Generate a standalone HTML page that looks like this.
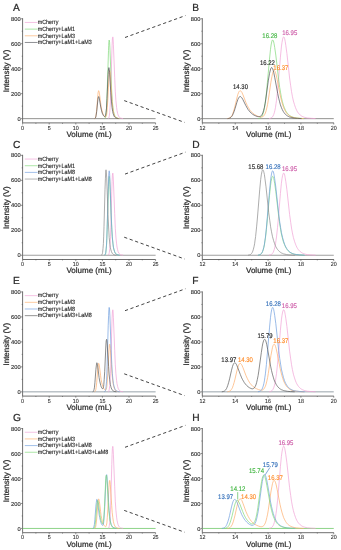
<!DOCTYPE html>
<html><head><meta charset="utf-8"><title>Size exclusion chromatography</title>
<style>
html,body{margin:0;padding:0;background:#fff;}
body{width:341px;height:550px;overflow:hidden;}
svg{display:block;text-rendering:geometricPrecision;filter:blur(0.3px);}
text{font-family:"Liberation Sans",Arial,sans-serif;fill:#2a2a2a;stroke:#2a2a2a;stroke-width:0.22px;}
.tk{font-size:5.35px;stroke-width:0.08px;}
.tky{font-size:5.75px;stroke-width:0.12px;}
.leg{font-size:5.4px;stroke-width:0.13px;}
.ttl{font-size:8.0px;}
.let{font-size:10.2px;}
.lab{font-size:6.0px;stroke-width:0.12px;}
</style></head>
<body>
<svg width="341" height="550" viewBox="0 0 341 550">
<rect width="341" height="550" fill="#fff"/>
<text x="13.1" y="11.2" class="let">A</text>
<text x="192.3" y="11.2" class="let">B</text>
<path d="M22.6,18.2 V122.9 H155.6" fill="none" stroke="#4a4a4a" stroke-width="0.8"/>
<path d="M21,118.65 h1.6" stroke="#4a4a4a" stroke-width="0.6"/>
<text x="20.65" y="120.71" class="tky" text-anchor="end">0</text>
<path d="M21.7,106.16 h0.9" stroke="#4a4a4a" stroke-width="0.6"/>
<path d="M21,93.67 h1.6" stroke="#4a4a4a" stroke-width="0.6"/>
<text x="20.65" y="95.73" class="tky" text-anchor="end">200</text>
<path d="M21.7,81.19 h0.9" stroke="#4a4a4a" stroke-width="0.6"/>
<path d="M21,68.7 h1.6" stroke="#4a4a4a" stroke-width="0.6"/>
<text x="20.65" y="70.76" class="tky" text-anchor="end">400</text>
<path d="M21.7,56.21 h0.9" stroke="#4a4a4a" stroke-width="0.6"/>
<path d="M21,43.72 h1.6" stroke="#4a4a4a" stroke-width="0.6"/>
<text x="20.65" y="45.78" class="tky" text-anchor="end">600</text>
<path d="M21.7,31.23 h0.9" stroke="#4a4a4a" stroke-width="0.6"/>
<path d="M21,18.75 h1.6" stroke="#4a4a4a" stroke-width="0.6"/>
<text x="20.65" y="20.8" class="tky" text-anchor="end">800</text>
<path d="M22.6,122.9 v1.6" stroke="#4a4a4a" stroke-width="0.6"/>
<text transform="translate(22.6,129.61) scale(1,1.1)" class="tk" text-anchor="middle">0</text>
<path d="M35.9,122.9 v0.9" stroke="#4a4a4a" stroke-width="0.6"/>
<path d="M49.2,122.9 v1.6" stroke="#4a4a4a" stroke-width="0.6"/>
<text transform="translate(49.2,129.61) scale(1,1.1)" class="tk" text-anchor="middle">5</text>
<path d="M62.5,122.9 v0.9" stroke="#4a4a4a" stroke-width="0.6"/>
<path d="M75.8,122.9 v1.6" stroke="#4a4a4a" stroke-width="0.6"/>
<text transform="translate(75.8,129.61) scale(1,1.1)" class="tk" text-anchor="middle">10</text>
<path d="M89.1,122.9 v0.9" stroke="#4a4a4a" stroke-width="0.6"/>
<path d="M102.4,122.9 v1.6" stroke="#4a4a4a" stroke-width="0.6"/>
<text transform="translate(102.4,129.61) scale(1,1.1)" class="tk" text-anchor="middle">15</text>
<path d="M115.7,122.9 v0.9" stroke="#4a4a4a" stroke-width="0.6"/>
<path d="M129,122.9 v1.6" stroke="#4a4a4a" stroke-width="0.6"/>
<text transform="translate(129,129.61) scale(1,1.1)" class="tk" text-anchor="middle">20</text>
<path d="M142.3,122.9 v0.9" stroke="#4a4a4a" stroke-width="0.6"/>
<path d="M155.6,122.9 v1.6" stroke="#4a4a4a" stroke-width="0.6"/>
<text transform="translate(155.6,129.61) scale(1,1.1)" class="tk" text-anchor="middle">25</text>
<text x="89.1" y="136.76" class="ttl" text-anchor="middle">Volume (mL)</text>
<text transform="translate(9.2,71) rotate(-90)" class="ttl" text-anchor="middle">Intensity (V)</text>
<path d="M202.3,18.2 V122.9 H333.9" fill="none" stroke="#4a4a4a" stroke-width="0.8"/>
<path d="M200.7,118.65 h1.6" stroke="#4a4a4a" stroke-width="0.6"/>
<text x="200.35" y="120.71" class="tky" text-anchor="end">0</text>
<path d="M201.4,106.16 h0.9" stroke="#4a4a4a" stroke-width="0.6"/>
<path d="M200.7,93.67 h1.6" stroke="#4a4a4a" stroke-width="0.6"/>
<text x="200.35" y="95.73" class="tky" text-anchor="end">200</text>
<path d="M201.4,81.19 h0.9" stroke="#4a4a4a" stroke-width="0.6"/>
<path d="M200.7,68.7 h1.6" stroke="#4a4a4a" stroke-width="0.6"/>
<text x="200.35" y="70.76" class="tky" text-anchor="end">400</text>
<path d="M201.4,56.21 h0.9" stroke="#4a4a4a" stroke-width="0.6"/>
<path d="M200.7,43.72 h1.6" stroke="#4a4a4a" stroke-width="0.6"/>
<text x="200.35" y="45.78" class="tky" text-anchor="end">600</text>
<path d="M201.4,31.23 h0.9" stroke="#4a4a4a" stroke-width="0.6"/>
<path d="M200.7,18.75 h1.6" stroke="#4a4a4a" stroke-width="0.6"/>
<text x="200.35" y="20.8" class="tky" text-anchor="end">800</text>
<path d="M202.4,122.9 v1.6" stroke="#4a4a4a" stroke-width="0.6"/>
<text transform="translate(202.4,129.61) scale(1,1.1)" class="tk" text-anchor="middle">12</text>
<path d="M218.82,122.9 v0.9" stroke="#4a4a4a" stroke-width="0.6"/>
<path d="M235.24,122.9 v1.6" stroke="#4a4a4a" stroke-width="0.6"/>
<text transform="translate(235.24,129.61) scale(1,1.1)" class="tk" text-anchor="middle">14</text>
<path d="M251.66,122.9 v0.9" stroke="#4a4a4a" stroke-width="0.6"/>
<path d="M268.08,122.9 v1.6" stroke="#4a4a4a" stroke-width="0.6"/>
<text transform="translate(268.08,129.61) scale(1,1.1)" class="tk" text-anchor="middle">16</text>
<path d="M284.5,122.9 v0.9" stroke="#4a4a4a" stroke-width="0.6"/>
<path d="M300.92,122.9 v1.6" stroke="#4a4a4a" stroke-width="0.6"/>
<text transform="translate(300.92,129.61) scale(1,1.1)" class="tk" text-anchor="middle">18</text>
<path d="M317.34,122.9 v0.9" stroke="#4a4a4a" stroke-width="0.6"/>
<path d="M333.76,122.9 v1.6" stroke="#4a4a4a" stroke-width="0.6"/>
<text transform="translate(333.76,129.61) scale(1,1.1)" class="tk" text-anchor="middle">20</text>
<text x="268.7" y="136.76" class="ttl" text-anchor="middle">Volume (mL)</text>
<text transform="translate(188.7,71) rotate(-90)" class="ttl" text-anchor="middle">Intensity (V)</text>
<path d="M22.6,118.65 H155.6" stroke="#80807c" stroke-width="0.85"/>
<path d="M108.0,118.6L108.5,118.3L108.8,117.9L109.1,116.9L109.3,115.9L109.8,112.1L110.1,107.3L110.5,100.2L110.8,90.7L111.8,55.0L112.1,45.2L112.4,38.9L112.6,37.7L112.7,37.1L112.8,36.9L112.9,37.1L113.1,39.0L113.4,44.8L114.7,77.2L115.3,91.8L115.9,100.5L116.6,107.4L117.0,110.5L117.6,113.2L118.1,115.0L118.8,116.4L119.1,116.9L119.5,117.4L120.0,117.7L120.4,118.0L121.5,118.3L123.1,118.6" fill="none" stroke="#f0a2d6" stroke-width="0.7"/>
<path d="M104.5,118.6L104.9,118.3L105.2,117.9L105.6,116.9L105.8,115.9L106.2,112.2L106.6,107.4L106.9,100.5L107.2,91.3L108.5,50.5L108.7,45.3L108.9,41.8L109.0,40.7L109.1,40.1L109.2,40.0L109.3,40.3L109.6,42.3L109.9,47.9L111.1,79.1L111.8,93.1L112.3,101.3L113.0,107.9L113.4,110.8L114.0,113.4L114.6,115.2L115.2,116.5L115.6,116.9L116.0,117.4L116.9,118.0L118.0,118.4L119.5,118.6" fill="none" stroke="#80d978" stroke-width="0.7"/>
<path d="M94.5,118.6L94.8,118.4L95.0,118.3L95.3,118.0L95.5,117.5L95.8,116.5L96.1,114.7L96.7,109.7L97.9,94.5L98.1,92.6L98.4,91.4L98.5,91.0L98.6,90.7L98.7,90.7L98.8,90.8L99.0,91.4L99.4,93.2L100.6,102.8L101.1,106.5L101.7,109.4L102.4,112.0L102.9,113.6L103.5,114.8L104.0,115.7L104.7,116.5L105.2,116.9L105.5,117.0L105.7,116.9L106.0,116.6L106.3,115.8L106.7,114.2L106.9,112.5L107.3,107.5L107.8,100.1L108.9,77.4L109.3,71.8L109.5,71.1L109.6,70.7L109.7,70.5L109.8,70.6L110.0,71.7L110.3,74.9L111.7,95.6L112.2,102.6L112.8,107.8L113.4,111.9L113.9,113.8L114.3,115.1L114.9,116.3L115.4,117.1L116.1,117.7L117.0,118.1L118.0,118.4L119.3,118.6" fill="none" stroke="#fdae6c" stroke-width="0.7"/>
<path d="M94.6,118.6L94.9,118.4L95.1,118.2L95.5,117.8L95.8,116.9L96.1,115.5L96.7,111.6L97.9,99.6L98.1,98.1L98.4,97.1L98.5,96.8L98.6,96.6L98.7,96.5L98.9,96.8L99.2,98.0L100.9,107.9L101.6,110.9L102.2,113.1L102.7,114.2L103.2,115.2L103.8,116.0L104.4,116.6L104.7,116.7L105.0,116.6L105.4,116.1L105.6,115.4L106.0,112.9L106.5,108.1L107.0,98.5L108.1,74.5L108.3,71.2L108.6,68.8L108.7,68.1L108.8,67.7L108.9,67.6L109.0,67.8L109.2,69.0L109.6,72.6L110.8,92.8L111.5,101.9L112.0,107.3L112.7,111.6L113.1,113.5L113.6,114.9L114.1,116.2L114.7,117.0L115.3,117.6L116.2,118.1L117.2,118.4L118.7,118.6" fill="none" stroke="#505258" stroke-width="0.7"/>
<path d="M202.4,118.65 H333.76" stroke="#80807c" stroke-width="0.85"/>
<path d="M269.0,118.6L270.3,118.3L271.4,117.9L271.8,117.6L272.2,117.1L273.0,116.1L273.7,114.5L274.3,112.8L274.9,110.4L275.5,107.4L276.0,103.7L276.5,100.4L277.5,91.1L278.4,81.5L280.4,57.2L281.4,46.9L282.0,42.4L282.6,39.2L283.1,37.6L283.3,37.1L283.6,36.9L283.8,36.9L284.1,37.2L284.4,37.8L284.7,38.8L285.2,41.5L285.8,45.3L286.9,53.4L289.6,78.0L290.7,85.8L291.5,91.5L292.4,96.4L293.4,101.0L294.5,104.7L295.5,107.7L296.1,109.1L296.8,110.6L297.5,111.9L298.4,113.1L299.3,114.1L300.2,115.0L301.2,115.8L302.2,116.4L303.4,116.9L304.5,117.3L305.9,117.7L307.3,118.0L310.8,118.3L315.6,118.6" fill="none" stroke="#f0a2d6" stroke-width="0.7"/>
<path d="M258.1,118.6L259.2,118.4L260.3,118.0L261.1,117.3L261.9,116.4L262.6,114.9L263.2,113.3L263.8,111.2L264.4,108.4L264.9,105.0L265.4,101.9L266.4,93.2L267.4,82.5L269.5,59.1L270.5,49.3L271.1,45.0L271.7,42.0L272.0,41.0L272.2,40.3L272.4,40.1L272.7,40.0L272.8,40.0L273.1,40.4L273.4,41.0L273.7,42.0L274.1,43.9L274.7,47.4L275.8,55.1L278.7,79.9L279.7,87.4L280.6,92.8L281.4,97.4L282.3,101.3L283.3,105.0L284.4,107.9L285.0,109.2L285.7,110.7L286.4,112.0L287.3,113.2L288.2,114.2L289.0,115.0L289.9,115.7L290.9,116.3L292.1,116.9L293.3,117.3L294.6,117.7L296.1,118.0L299.6,118.3L304.4,118.6" fill="none" stroke="#80d978" stroke-width="0.7"/>
<path d="M227.4,118.6L228.3,118.4L229.0,118.2L229.7,117.9L230.3,117.5L230.9,117.0L231.3,116.4L231.9,115.5L232.4,114.7L233.2,112.4L234.1,109.5L235.0,106.1L236.9,98.0L237.9,94.3L238.5,92.7L239.1,91.5L239.5,91.0L239.8,90.8L240.1,90.7L240.5,90.8L241.0,91.1L241.4,91.6L241.9,92.4L243.0,94.9L245.9,102.5L247.4,105.8L248.3,107.4L249.3,109.1L250.3,110.6L251.5,111.9L253.1,113.5L254.7,114.6L256.6,115.7L258.7,116.5L260.4,116.9L261.1,117.0L261.7,116.9L262.3,116.8L262.9,116.6L263.3,116.3L263.8,115.9L264.2,115.3L264.6,114.6L265.4,113.0L266.1,110.8L266.8,108.0L267.6,104.4L268.3,100.1L270.9,82.2L272.0,76.2L272.5,73.6L273.1,71.8L273.6,70.9L273.9,70.6L274.1,70.5L274.3,70.5L274.6,70.8L274.9,71.1L275.2,71.7L275.6,72.9L276.2,75.0L277.2,79.7L280.1,94.9L281.0,98.8L281.9,102.3L282.8,105.2L283.6,107.6L284.7,109.9L285.7,111.8L286.3,112.7L287.0,113.6L287.7,114.4L288.5,115.1L289.2,115.6L290.1,116.2L290.9,116.6L292.0,117.1L294.2,117.7L296.6,118.1L299.7,118.4L303.8,118.6" fill="none" stroke="#fdae6c" stroke-width="0.7"/>
<path d="M227.5,118.6L228.4,118.5L229.1,118.3L229.7,118.1L230.3,117.8L230.9,117.3L231.3,116.9L231.9,116.2L232.4,115.5L233.2,113.7L234.1,111.5L235.0,108.7L236.9,102.3L237.9,99.4L238.5,98.1L239.1,97.2L239.5,96.8L239.8,96.6L240.1,96.5L240.5,96.6L241.0,96.9L241.4,97.3L241.9,97.9L242.9,99.6L245.7,105.3L247.3,108.2L248.1,109.6L249.2,110.9L250.2,112.1L251.2,113.1L252.7,114.3L254.1,115.2L255.7,115.9L257.3,116.5L258.7,116.7L259.7,116.6L260.6,116.2L261.3,115.6L261.7,115.0L262.2,114.3L262.9,112.7L263.6,110.4L264.4,107.3L265.1,103.6L265.8,99.1L268.4,80.1L269.5,73.7L270.1,71.0L270.6,69.0L271.1,68.1L271.4,67.7L271.7,67.6L272.0,67.7L272.1,67.8L272.4,68.2L272.7,68.9L273.1,70.1L273.7,72.3L274.7,77.2L277.7,93.4L278.7,98.2L279.6,101.8L280.4,104.8L281.3,107.3L282.2,109.4L283.2,111.3L283.8,112.3L284.5,113.3L285.2,114.1L286.0,114.8L286.7,115.4L287.6,116.0L288.5,116.5L289.5,117.0L290.5,117.3L291.7,117.6L294.2,118.1L297.4,118.4L301.6,118.6" fill="none" stroke="#505258" stroke-width="0.7"/>
<path d="M24.8,22.45 H37.6" stroke="#f0a2d6" stroke-width="0.65"/>
<text transform="translate(37.7,24.27) scale(1,1.12)" class="leg">mCherry</text>
<path d="M24.8,29.12 H37.6" stroke="#80d978" stroke-width="0.65"/>
<text transform="translate(37.7,30.94) scale(1,1.12)" class="leg">mCherry+LaM1</text>
<path d="M24.8,35.79 H37.6" stroke="#fdae6c" stroke-width="0.65"/>
<text transform="translate(37.7,37.61) scale(1,1.12)" class="leg">mCherry+LaM3</text>
<path d="M24.8,42.46 H37.6" stroke="#505258" stroke-width="0.65"/>
<text transform="translate(37.7,44.28) scale(1,1.12)" class="leg">mCherry+LaM1+LaM3</text>
<text transform="translate(289.7,35.16) scale(1,1.12)" class="lab" text-anchor="middle" style="fill:#cc58a6;stroke:#cc58a6">16.95</text>
<text transform="translate(269.8,38.46) scale(1,1.12)" class="lab" text-anchor="middle" style="fill:#3cb43c;stroke:#3cb43c">16.28</text>
<text transform="translate(267.4,65.36) scale(1,1.12)" class="lab" text-anchor="middle" style="fill:#1e1e1e;stroke:#1e1e1e">16.22</text>
<text transform="translate(280.8,70.06) scale(1,1.12)" class="lab" text-anchor="middle" style="fill:#ff8a26;stroke:#ff8a26">16.37</text>
<text transform="translate(240.5,88.76) scale(1,1.12)" class="lab" text-anchor="middle" style="fill:#1e1e1e;stroke:#1e1e1e">14.30</text>
<path d="M125,37.5 L185.4,15.6 M124.2,100.6 L184.6,122.4" stroke="#3a3a3a" stroke-width="0.95" stroke-dasharray="3.2,2.6" fill="none"/>
<text x="13.1" y="147.8" class="let">C</text>
<text x="192.3" y="147.8" class="let">D</text>
<path d="M22.6,154.8 V259.5 H155.6" fill="none" stroke="#4a4a4a" stroke-width="0.8"/>
<path d="M21,255.25 h1.6" stroke="#4a4a4a" stroke-width="0.6"/>
<text x="20.65" y="257.31" class="tky" text-anchor="end">0</text>
<path d="M21.7,242.76 h0.9" stroke="#4a4a4a" stroke-width="0.6"/>
<path d="M21,230.27 h1.6" stroke="#4a4a4a" stroke-width="0.6"/>
<text x="20.65" y="232.33" class="tky" text-anchor="end">200</text>
<path d="M21.7,217.79 h0.9" stroke="#4a4a4a" stroke-width="0.6"/>
<path d="M21,205.3 h1.6" stroke="#4a4a4a" stroke-width="0.6"/>
<text x="20.65" y="207.36" class="tky" text-anchor="end">400</text>
<path d="M21.7,192.81 h0.9" stroke="#4a4a4a" stroke-width="0.6"/>
<path d="M21,180.32 h1.6" stroke="#4a4a4a" stroke-width="0.6"/>
<text x="20.65" y="182.38" class="tky" text-anchor="end">600</text>
<path d="M21.7,167.83 h0.9" stroke="#4a4a4a" stroke-width="0.6"/>
<path d="M21,155.35 h1.6" stroke="#4a4a4a" stroke-width="0.6"/>
<text x="20.65" y="157.4" class="tky" text-anchor="end">800</text>
<path d="M22.6,259.5 v1.6" stroke="#4a4a4a" stroke-width="0.6"/>
<text transform="translate(22.6,266.21) scale(1,1.1)" class="tk" text-anchor="middle">0</text>
<path d="M35.9,259.5 v0.9" stroke="#4a4a4a" stroke-width="0.6"/>
<path d="M49.2,259.5 v1.6" stroke="#4a4a4a" stroke-width="0.6"/>
<text transform="translate(49.2,266.21) scale(1,1.1)" class="tk" text-anchor="middle">5</text>
<path d="M62.5,259.5 v0.9" stroke="#4a4a4a" stroke-width="0.6"/>
<path d="M75.8,259.5 v1.6" stroke="#4a4a4a" stroke-width="0.6"/>
<text transform="translate(75.8,266.21) scale(1,1.1)" class="tk" text-anchor="middle">10</text>
<path d="M89.1,259.5 v0.9" stroke="#4a4a4a" stroke-width="0.6"/>
<path d="M102.4,259.5 v1.6" stroke="#4a4a4a" stroke-width="0.6"/>
<text transform="translate(102.4,266.21) scale(1,1.1)" class="tk" text-anchor="middle">15</text>
<path d="M115.7,259.5 v0.9" stroke="#4a4a4a" stroke-width="0.6"/>
<path d="M129,259.5 v1.6" stroke="#4a4a4a" stroke-width="0.6"/>
<text transform="translate(129,266.21) scale(1,1.1)" class="tk" text-anchor="middle">20</text>
<path d="M142.3,259.5 v0.9" stroke="#4a4a4a" stroke-width="0.6"/>
<path d="M155.6,259.5 v1.6" stroke="#4a4a4a" stroke-width="0.6"/>
<text transform="translate(155.6,266.21) scale(1,1.1)" class="tk" text-anchor="middle">25</text>
<text x="89.1" y="273.36" class="ttl" text-anchor="middle">Volume (mL)</text>
<text transform="translate(9.2,207.6) rotate(-90)" class="ttl" text-anchor="middle">Intensity (V)</text>
<path d="M202.3,154.8 V259.5 H333.9" fill="none" stroke="#4a4a4a" stroke-width="0.8"/>
<path d="M200.7,255.25 h1.6" stroke="#4a4a4a" stroke-width="0.6"/>
<text x="200.35" y="257.31" class="tky" text-anchor="end">0</text>
<path d="M201.4,242.76 h0.9" stroke="#4a4a4a" stroke-width="0.6"/>
<path d="M200.7,230.27 h1.6" stroke="#4a4a4a" stroke-width="0.6"/>
<text x="200.35" y="232.33" class="tky" text-anchor="end">200</text>
<path d="M201.4,217.79 h0.9" stroke="#4a4a4a" stroke-width="0.6"/>
<path d="M200.7,205.3 h1.6" stroke="#4a4a4a" stroke-width="0.6"/>
<text x="200.35" y="207.36" class="tky" text-anchor="end">400</text>
<path d="M201.4,192.81 h0.9" stroke="#4a4a4a" stroke-width="0.6"/>
<path d="M200.7,180.32 h1.6" stroke="#4a4a4a" stroke-width="0.6"/>
<text x="200.35" y="182.38" class="tky" text-anchor="end">600</text>
<path d="M201.4,167.83 h0.9" stroke="#4a4a4a" stroke-width="0.6"/>
<path d="M200.7,155.35 h1.6" stroke="#4a4a4a" stroke-width="0.6"/>
<text x="200.35" y="157.4" class="tky" text-anchor="end">800</text>
<path d="M202.4,259.5 v1.6" stroke="#4a4a4a" stroke-width="0.6"/>
<text transform="translate(202.4,266.21) scale(1,1.1)" class="tk" text-anchor="middle">12</text>
<path d="M218.82,259.5 v0.9" stroke="#4a4a4a" stroke-width="0.6"/>
<path d="M235.24,259.5 v1.6" stroke="#4a4a4a" stroke-width="0.6"/>
<text transform="translate(235.24,266.21) scale(1,1.1)" class="tk" text-anchor="middle">14</text>
<path d="M251.66,259.5 v0.9" stroke="#4a4a4a" stroke-width="0.6"/>
<path d="M268.08,259.5 v1.6" stroke="#4a4a4a" stroke-width="0.6"/>
<text transform="translate(268.08,266.21) scale(1,1.1)" class="tk" text-anchor="middle">16</text>
<path d="M284.5,259.5 v0.9" stroke="#4a4a4a" stroke-width="0.6"/>
<path d="M300.92,259.5 v1.6" stroke="#4a4a4a" stroke-width="0.6"/>
<text transform="translate(300.92,266.21) scale(1,1.1)" class="tk" text-anchor="middle">18</text>
<path d="M317.34,259.5 v0.9" stroke="#4a4a4a" stroke-width="0.6"/>
<path d="M333.76,259.5 v1.6" stroke="#4a4a4a" stroke-width="0.6"/>
<text transform="translate(333.76,266.21) scale(1,1.1)" class="tk" text-anchor="middle">20</text>
<text x="268.7" y="273.36" class="ttl" text-anchor="middle">Volume (mL)</text>
<text transform="translate(188.7,207.6) rotate(-90)" class="ttl" text-anchor="middle">Intensity (V)</text>
<path d="M22.6,255.25 H155.6" stroke="#8e8e8e" stroke-width="0.85"/>
<path d="M108.0,255.2L108.5,254.9L108.8,254.5L109.1,253.5L109.3,252.5L109.8,248.7L110.1,243.8L110.5,236.7L110.8,227.2L111.8,191.3L112.1,181.5L112.4,175.1L112.6,174.0L112.7,173.3L112.8,173.1L112.9,173.4L113.1,175.3L113.4,181.0L114.7,213.6L115.3,228.3L115.9,237.0L116.6,243.9L117.0,247.0L117.6,249.7L118.1,251.6L118.8,253.0L119.1,253.5L119.5,253.9L120.0,254.3L120.4,254.6L121.5,254.9L123.2,255.2" fill="none" stroke="#f0a2d6" stroke-width="0.7"/>
<path d="M104.5,255.2L104.9,254.9L105.2,254.5L105.6,253.5L105.8,252.5L106.2,248.8L106.6,244.0L106.9,237.1L107.2,227.8L108.5,186.8L108.7,181.6L108.9,178.1L109.0,177.1L109.1,176.5L109.2,176.3L109.3,176.7L109.6,178.6L109.9,184.3L111.1,215.6L111.8,229.6L112.3,237.9L113.0,244.5L113.4,247.4L114.0,250.0L114.6,251.7L115.2,253.1L115.6,253.5L116.0,254.0L116.9,254.6L118.0,255.0L119.5,255.2" fill="none" stroke="#80d978" stroke-width="0.7"/>
<path d="M104.4,255.2L104.8,255.0L105.1,254.6L105.5,253.8L105.7,252.9L106.1,249.6L106.5,245.2L106.8,238.5L107.1,229.5L108.2,189.1L108.6,179.1L108.9,172.8L109.0,171.6L109.1,171.0L109.2,170.8L109.3,171.2L109.6,173.3L109.9,179.3L111.1,212.8L111.8,227.8L112.3,236.7L113.0,243.7L113.4,246.9L114.0,249.6L114.6,251.5L115.2,252.9L115.6,253.4L116.0,253.9L116.4,254.3L116.9,254.6L118.0,254.9L119.7,255.2" fill="none" stroke="#6f9ede" stroke-width="0.7"/>
<path d="M101.2,255.2L101.7,254.9L102.0,254.5L102.4,253.5L102.6,252.4L103.0,248.6L103.4,243.5L103.7,236.2L104.0,226.4L105.0,189.2L105.4,178.8L105.7,172.1L105.8,170.8L105.9,170.1L106.0,169.8L106.1,170.1L106.3,172.0L106.7,177.9L108.0,214.6L108.6,227.0L109.2,237.6L109.9,244.3L110.3,247.3L110.9,249.9L111.5,251.7L112.1,253.0L112.4,253.5L112.9,254.0L113.8,254.6L114.9,255.0L116.4,255.2" fill="none" stroke="#8a8a8a" stroke-width="0.7"/>
<path d="M202.4,255.25 H333.76" stroke="#8e8e8e" stroke-width="0.85"/>
<path d="M269.0,255.2L270.3,254.9L271.4,254.5L271.8,254.2L272.2,253.7L273.0,252.7L273.7,251.1L274.3,249.3L274.9,247.0L275.5,244.0L276.0,240.3L276.5,237.0L277.5,227.6L278.4,217.9L280.4,193.5L281.4,183.2L282.0,178.7L282.6,175.4L283.1,173.9L283.3,173.3L283.6,173.1L283.8,173.1L284.1,173.4L284.4,174.1L284.7,175.0L285.2,177.8L285.8,181.5L286.9,189.7L289.6,214.5L290.7,222.3L291.5,228.0L292.4,232.9L293.4,237.5L294.5,241.3L295.5,244.2L296.1,245.7L296.8,247.2L297.5,248.4L298.4,249.7L299.3,250.7L300.2,251.6L301.2,252.4L302.2,253.0L303.4,253.5L304.5,253.9L305.9,254.3L307.3,254.6L310.8,254.9L315.6,255.2" fill="none" stroke="#f0a2d6" stroke-width="0.7"/>
<path d="M258.1,255.2L259.2,255.0L260.3,254.6L261.1,253.9L261.9,253.0L262.6,251.5L263.2,249.9L263.8,247.7L264.4,245.0L264.9,241.5L265.4,238.5L266.4,229.7L267.4,218.9L269.5,195.5L270.5,185.7L271.1,181.4L271.7,178.4L272.0,177.4L272.2,176.7L272.4,176.5L272.7,176.3L272.8,176.4L273.1,176.7L273.4,177.4L273.7,178.3L274.1,180.3L274.7,183.7L275.8,191.5L278.7,216.4L279.7,223.9L280.6,229.3L281.4,234.0L282.3,237.8L283.3,241.5L284.4,244.4L285.0,245.8L285.7,247.3L286.4,248.5L287.3,249.8L288.2,250.8L289.0,251.6L289.9,252.3L290.9,252.9L292.1,253.5L293.3,253.9L294.6,254.3L296.1,254.5L299.6,254.9L304.4,255.2" fill="none" stroke="#80d978" stroke-width="0.7"/>
<path d="M257.9,255.2L259.2,254.9L260.3,254.5L260.7,254.2L261.1,253.8L261.9,252.8L262.6,251.3L263.2,249.5L263.8,247.2L264.4,244.3L264.9,240.6L265.4,237.3L266.4,227.9L267.4,216.4L269.5,191.3L270.5,180.8L271.1,176.3L271.7,173.0L272.0,171.9L272.2,171.2L272.4,171.0L272.7,170.8L272.8,170.9L273.1,171.2L273.4,172.0L273.7,173.0L274.1,175.1L274.7,178.8L275.8,187.0L278.7,213.7L279.7,221.7L280.6,227.5L281.4,232.5L282.5,237.2L283.5,241.0L284.5,244.1L285.1,245.5L285.8,247.0L286.6,248.3L287.4,249.6L288.3,250.7L289.2,251.5L290.2,252.3L291.2,252.9L292.4,253.5L293.6,253.9L294.9,254.3L296.4,254.5L299.9,254.9L304.7,255.2" fill="none" stroke="#6f9ede" stroke-width="0.7"/>
<path d="M248.1,255.2L249.4,254.9L250.5,254.5L250.9,254.1L251.3,253.7L252.1,252.7L252.8,251.1L253.4,249.2L254.0,246.8L254.6,243.8L255.1,240.0L255.6,236.6L256.6,226.9L257.5,217.0L259.7,189.9L260.7,179.4L261.3,174.9L261.9,171.8L262.3,170.4L262.6,169.9L262.7,169.8L262.9,169.8L263.0,169.9L263.3,170.4L263.6,171.2L263.9,172.3L264.4,174.5L264.9,178.3L266.0,186.8L268.7,212.5L269.8,220.7L270.6,226.7L271.5,231.8L272.5,236.7L273.6,240.6L274.6,243.7L275.2,245.2L275.9,246.8L276.6,248.1L277.5,249.4L278.4,250.5L279.3,251.4L280.3,252.2L281.3,252.9L282.5,253.4L283.6,253.9L285.0,254.2L286.4,254.5L288.0,254.8L289.9,254.9L294.9,255.2" fill="none" stroke="#8a8a8a" stroke-width="0.7"/>
<path d="M24.8,159.05 H37.6" stroke="#f0a2d6" stroke-width="0.65"/>
<text transform="translate(37.7,160.87) scale(1,1.12)" class="leg">mCherry</text>
<path d="M24.8,165.72 H37.6" stroke="#80d978" stroke-width="0.65"/>
<text transform="translate(37.7,167.54) scale(1,1.12)" class="leg">mCherry+LaM1</text>
<path d="M24.8,172.39 H37.6" stroke="#6f9ede" stroke-width="0.65"/>
<text transform="translate(37.7,174.21) scale(1,1.12)" class="leg">mCherry+LaM8</text>
<path d="M24.8,179.06 H37.6" stroke="#8a8a8a" stroke-width="0.65"/>
<text transform="translate(37.7,180.88) scale(1,1.12)" class="leg">mCherry+LaM1+LaM8</text>
<text transform="translate(255.8,169.16) scale(1,1.12)" class="lab" text-anchor="middle" style="fill:#1e1e1e;stroke:#1e1e1e">15.68</text>
<text transform="translate(273.1,169.36) scale(1,1.12)" class="lab" text-anchor="middle" style="fill:#2f6db8;stroke:#2f6db8">16.28</text>
<text transform="translate(289.5,171.16) scale(1,1.12)" class="lab" text-anchor="middle" style="fill:#cc58a6;stroke:#cc58a6">16.95</text>
<path d="M125,174.1 L185.4,152.2 M124.2,237.2 L184.6,259" stroke="#3a3a3a" stroke-width="0.95" stroke-dasharray="3.2,2.6" fill="none"/>
<text x="13.1" y="284.4" class="let">E</text>
<text x="192.3" y="284.4" class="let">F</text>
<path d="M22.6,291.4 V396.1 H155.6" fill="none" stroke="#4a4a4a" stroke-width="0.8"/>
<path d="M21,391.85 h1.6" stroke="#4a4a4a" stroke-width="0.6"/>
<text x="20.65" y="393.91" class="tky" text-anchor="end">0</text>
<path d="M21.7,379.36 h0.9" stroke="#4a4a4a" stroke-width="0.6"/>
<path d="M21,366.87 h1.6" stroke="#4a4a4a" stroke-width="0.6"/>
<text x="20.65" y="368.93" class="tky" text-anchor="end">200</text>
<path d="M21.7,354.39 h0.9" stroke="#4a4a4a" stroke-width="0.6"/>
<path d="M21,341.9 h1.6" stroke="#4a4a4a" stroke-width="0.6"/>
<text x="20.65" y="343.96" class="tky" text-anchor="end">400</text>
<path d="M21.7,329.41 h0.9" stroke="#4a4a4a" stroke-width="0.6"/>
<path d="M21,316.92 h1.6" stroke="#4a4a4a" stroke-width="0.6"/>
<text x="20.65" y="318.98" class="tky" text-anchor="end">600</text>
<path d="M21.7,304.43 h0.9" stroke="#4a4a4a" stroke-width="0.6"/>
<path d="M21,291.95 h1.6" stroke="#4a4a4a" stroke-width="0.6"/>
<text x="20.65" y="294" class="tky" text-anchor="end">800</text>
<path d="M22.6,396.1 v1.6" stroke="#4a4a4a" stroke-width="0.6"/>
<text transform="translate(22.6,402.81) scale(1,1.1)" class="tk" text-anchor="middle">0</text>
<path d="M35.9,396.1 v0.9" stroke="#4a4a4a" stroke-width="0.6"/>
<path d="M49.2,396.1 v1.6" stroke="#4a4a4a" stroke-width="0.6"/>
<text transform="translate(49.2,402.81) scale(1,1.1)" class="tk" text-anchor="middle">5</text>
<path d="M62.5,396.1 v0.9" stroke="#4a4a4a" stroke-width="0.6"/>
<path d="M75.8,396.1 v1.6" stroke="#4a4a4a" stroke-width="0.6"/>
<text transform="translate(75.8,402.81) scale(1,1.1)" class="tk" text-anchor="middle">10</text>
<path d="M89.1,396.1 v0.9" stroke="#4a4a4a" stroke-width="0.6"/>
<path d="M102.4,396.1 v1.6" stroke="#4a4a4a" stroke-width="0.6"/>
<text transform="translate(102.4,402.81) scale(1,1.1)" class="tk" text-anchor="middle">15</text>
<path d="M115.7,396.1 v0.9" stroke="#4a4a4a" stroke-width="0.6"/>
<path d="M129,396.1 v1.6" stroke="#4a4a4a" stroke-width="0.6"/>
<text transform="translate(129,402.81) scale(1,1.1)" class="tk" text-anchor="middle">20</text>
<path d="M142.3,396.1 v0.9" stroke="#4a4a4a" stroke-width="0.6"/>
<path d="M155.6,396.1 v1.6" stroke="#4a4a4a" stroke-width="0.6"/>
<text transform="translate(155.6,402.81) scale(1,1.1)" class="tk" text-anchor="middle">25</text>
<text x="89.1" y="409.96" class="ttl" text-anchor="middle">Volume (mL)</text>
<text transform="translate(9.2,344.2) rotate(-90)" class="ttl" text-anchor="middle">Intensity (V)</text>
<path d="M202.3,291.4 V396.1 H333.9" fill="none" stroke="#4a4a4a" stroke-width="0.8"/>
<path d="M200.7,391.85 h1.6" stroke="#4a4a4a" stroke-width="0.6"/>
<text x="200.35" y="393.91" class="tky" text-anchor="end">0</text>
<path d="M201.4,379.36 h0.9" stroke="#4a4a4a" stroke-width="0.6"/>
<path d="M200.7,366.87 h1.6" stroke="#4a4a4a" stroke-width="0.6"/>
<text x="200.35" y="368.93" class="tky" text-anchor="end">200</text>
<path d="M201.4,354.39 h0.9" stroke="#4a4a4a" stroke-width="0.6"/>
<path d="M200.7,341.9 h1.6" stroke="#4a4a4a" stroke-width="0.6"/>
<text x="200.35" y="343.96" class="tky" text-anchor="end">400</text>
<path d="M201.4,329.41 h0.9" stroke="#4a4a4a" stroke-width="0.6"/>
<path d="M200.7,316.92 h1.6" stroke="#4a4a4a" stroke-width="0.6"/>
<text x="200.35" y="318.98" class="tky" text-anchor="end">600</text>
<path d="M201.4,304.43 h0.9" stroke="#4a4a4a" stroke-width="0.6"/>
<path d="M200.7,291.95 h1.6" stroke="#4a4a4a" stroke-width="0.6"/>
<text x="200.35" y="294" class="tky" text-anchor="end">800</text>
<path d="M202.4,396.1 v1.6" stroke="#4a4a4a" stroke-width="0.6"/>
<text transform="translate(202.4,402.81) scale(1,1.1)" class="tk" text-anchor="middle">12</text>
<path d="M218.82,396.1 v0.9" stroke="#4a4a4a" stroke-width="0.6"/>
<path d="M235.24,396.1 v1.6" stroke="#4a4a4a" stroke-width="0.6"/>
<text transform="translate(235.24,402.81) scale(1,1.1)" class="tk" text-anchor="middle">14</text>
<path d="M251.66,396.1 v0.9" stroke="#4a4a4a" stroke-width="0.6"/>
<path d="M268.08,396.1 v1.6" stroke="#4a4a4a" stroke-width="0.6"/>
<text transform="translate(268.08,402.81) scale(1,1.1)" class="tk" text-anchor="middle">16</text>
<path d="M284.5,396.1 v0.9" stroke="#4a4a4a" stroke-width="0.6"/>
<path d="M300.92,396.1 v1.6" stroke="#4a4a4a" stroke-width="0.6"/>
<text transform="translate(300.92,402.81) scale(1,1.1)" class="tk" text-anchor="middle">18</text>
<path d="M317.34,396.1 v0.9" stroke="#4a4a4a" stroke-width="0.6"/>
<path d="M333.76,396.1 v1.6" stroke="#4a4a4a" stroke-width="0.6"/>
<text transform="translate(333.76,402.81) scale(1,1.1)" class="tk" text-anchor="middle">20</text>
<text x="268.7" y="409.96" class="ttl" text-anchor="middle">Volume (mL)</text>
<text transform="translate(188.7,344.2) rotate(-90)" class="ttl" text-anchor="middle">Intensity (V)</text>
<path d="M22.6,391.85 H155.6" stroke="#86929c" stroke-width="0.85"/>
<path d="M108.0,391.8L108.5,391.5L108.8,391.1L109.1,390.1L109.3,389.1L109.8,385.3L110.1,380.4L110.5,373.3L110.8,363.8L111.8,328.0L112.1,318.2L112.4,311.9L112.6,310.7L112.7,310.0L112.8,309.8L112.9,310.1L113.1,312.0L113.4,317.7L114.7,350.3L115.3,364.9L115.9,373.6L116.6,380.5L117.0,383.6L117.6,386.3L118.1,388.2L118.8,389.6L119.1,390.1L119.5,390.5L120.0,390.9L120.4,391.2L121.5,391.5L123.1,391.8" fill="none" stroke="#f0a2d6" stroke-width="0.7"/>
<path d="M94.5,391.8L94.8,391.6L95.0,391.5L95.3,391.2L95.5,390.7L95.8,389.6L96.1,387.8L96.7,382.8L97.9,367.3L98.1,365.4L98.4,364.1L98.5,363.7L98.6,363.4L98.7,363.4L98.8,363.5L99.0,364.1L99.4,366.0L100.6,375.7L101.1,379.5L101.7,382.4L102.4,385.1L102.9,386.7L103.5,387.9L104.0,388.9L104.7,389.7L105.2,390.1L105.5,390.1L105.7,390.1L106.0,389.8L106.3,389.0L106.7,387.4L106.9,385.8L107.3,380.8L107.8,373.5L108.9,351.0L109.3,345.5L109.5,344.8L109.6,344.4L109.7,344.2L109.8,344.3L110.0,345.4L110.3,348.6L111.7,369.0L112.2,376.0L112.8,381.1L113.4,385.2L113.9,387.0L114.3,388.3L114.9,389.5L115.4,390.3L116.1,390.9L117.0,391.3L118.0,391.6L119.3,391.8" fill="none" stroke="#fdae6c" stroke-width="0.7"/>
<path d="M104.4,391.8L104.8,391.6L105.1,391.2L105.5,390.4L105.7,389.5L106.1,386.2L106.5,381.8L106.8,375.1L107.1,366.1L108.2,325.7L108.6,315.7L108.9,309.4L109.0,308.2L109.1,307.6L109.2,307.4L109.3,307.8L109.6,309.9L109.9,315.9L111.1,349.4L111.8,364.4L112.3,373.3L113.0,380.3L113.4,383.5L114.0,386.2L114.6,388.1L115.2,389.5L115.6,390.0L116.0,390.5L116.4,390.9L116.9,391.2L118.0,391.5L119.7,391.8" fill="none" stroke="#6f9ede" stroke-width="0.7"/>
<path d="M92.7,391.8L93.0,391.6L93.3,391.5L93.5,391.2L93.7,390.7L94.0,389.6L94.4,387.8L94.9,382.8L95.9,369.5L96.3,365.9L96.6,363.5L96.7,363.1L96.8,362.8L96.9,362.8L97.0,362.8L97.1,363.1L97.5,364.5L99.1,377.6L99.7,381.0L100.4,384.0L100.8,385.6L101.2,386.8L101.7,387.8L102.1,388.5L102.5,388.7L102.7,388.8L102.8,388.7L103.1,388.2L103.4,387.5L103.6,386.4L103.8,384.7L104.2,379.5L104.7,371.7L105.9,345.1L106.2,340.9L106.5,339.5L106.6,339.3L106.7,339.4L106.9,340.4L107.2,343.9L108.6,366.4L109.1,374.1L109.7,379.8L110.3,384.4L110.8,386.4L111.2,387.9L111.8,389.2L112.4,390.2L113.1,390.8L114.0,391.3L115.0,391.6L116.4,391.8" fill="none" stroke="#5a5a5a" stroke-width="0.7"/>
<path d="M202.4,391.85 H333.76" stroke="#86929c" stroke-width="0.85"/>
<path d="M269.0,391.8L270.3,391.5L271.4,391.1L271.8,390.8L272.2,390.3L273.0,389.3L273.7,387.7L274.3,385.9L274.9,383.6L275.5,380.6L276.0,376.9L276.5,373.6L277.5,364.2L278.4,354.6L280.4,330.2L281.4,319.9L282.0,315.4L282.6,312.1L283.1,310.6L283.3,310.0L283.6,309.8L283.8,309.8L284.1,310.1L284.4,310.8L284.7,311.7L285.2,314.5L285.8,318.2L286.9,326.4L289.6,351.1L290.7,358.9L291.5,364.6L292.4,369.5L293.4,374.2L294.5,377.9L295.5,380.9L296.1,382.3L296.8,383.8L297.5,385.0L298.4,386.3L299.3,387.3L300.2,388.2L301.2,389.0L302.2,389.6L303.4,390.1L304.5,390.5L305.9,390.9L307.3,391.2L310.8,391.5L315.6,391.8" fill="none" stroke="#f0a2d6" stroke-width="0.7"/>
<path d="M227.4,391.8L228.3,391.6L229.0,391.4L229.7,391.1L230.3,390.7L230.9,390.2L231.3,389.6L231.9,388.7L232.4,387.8L233.2,385.5L234.1,382.6L235.0,379.1L236.9,370.8L237.9,367.1L238.5,365.4L239.1,364.2L239.5,363.7L239.8,363.5L240.1,363.4L240.5,363.5L241.0,363.8L241.4,364.3L241.9,365.1L243.0,367.7L245.9,375.4L247.4,378.7L248.3,380.4L249.3,382.2L250.3,383.6L251.5,385.0L253.1,386.6L254.7,387.8L256.6,388.8L258.5,389.6L260.3,390.1L261.0,390.1L261.7,390.1L262.3,390.0L262.9,389.8L263.3,389.5L263.8,389.1L264.2,388.5L264.6,387.8L265.4,386.3L266.1,384.1L266.8,381.2L267.6,377.7L268.3,373.5L270.9,355.7L272.0,349.8L272.5,347.3L273.1,345.5L273.6,344.6L273.9,344.3L274.1,344.2L274.3,344.2L274.6,344.4L274.9,344.8L275.2,345.4L275.6,346.6L276.2,348.7L277.2,353.3L280.1,368.3L281.0,372.2L281.9,375.6L282.8,378.5L283.6,380.9L284.7,383.2L285.7,385.1L286.3,385.9L287.0,386.9L287.7,387.6L288.5,388.3L289.2,388.9L290.1,389.4L290.9,389.9L292.0,390.3L294.2,390.9L296.6,391.3L299.7,391.6L303.8,391.8" fill="none" stroke="#fdae6c" stroke-width="0.7"/>
<path d="M257.9,391.8L259.2,391.5L260.3,391.1L260.7,390.8L261.1,390.4L261.9,389.4L262.6,387.9L263.2,386.1L263.8,383.8L264.4,380.9L264.9,377.2L265.4,373.9L266.4,364.5L267.4,353.0L269.5,327.9L270.5,317.4L271.1,312.9L271.7,309.6L272.0,308.5L272.2,307.8L272.4,307.6L272.7,307.4L272.8,307.5L273.1,307.8L273.4,308.6L273.7,309.6L274.1,311.7L274.7,315.4L275.8,323.6L278.7,350.3L279.7,358.3L280.6,364.1L281.4,369.1L282.5,373.8L283.5,377.6L284.5,380.7L285.1,382.1L285.8,383.6L286.6,384.9L287.4,386.2L288.3,387.3L289.2,388.1L290.2,388.9L291.2,389.5L292.4,390.1L293.6,390.5L294.9,390.9L296.4,391.1L299.9,391.5L304.7,391.8" fill="none" stroke="#6f9ede" stroke-width="0.7"/>
<path d="M221.8,391.8L222.9,391.6L223.6,391.4L224.3,391.1L224.9,390.7L225.5,390.1L225.9,389.5L226.5,388.6L226.9,387.7L227.8,385.3L228.7,382.3L229.6,378.8L231.5,370.3L232.5,366.5L233.1,364.8L233.7,363.6L234.1,363.1L234.4,362.8L234.7,362.8L235.1,362.8L235.6,363.2L236.0,363.8L236.6,364.8L237.6,367.2L240.4,374.7L241.7,377.9L242.6,379.7L243.5,381.2L244.3,382.6L245.4,384.0L246.7,385.5L248.0,386.7L249.4,387.7L250.8,388.4L251.9,388.8L252.8,388.8L253.2,388.6L253.7,388.4L254.4,387.8L255.1,386.7L255.9,385.0L256.6,382.7L257.3,379.6L258.1,375.7L258.8,371.1L261.3,352.7L262.3,346.1L262.9,343.1L263.5,341.0L263.8,340.2L264.1,339.7L264.4,339.4L264.6,339.3L264.8,339.3L265.1,339.6L265.4,340.0L265.7,340.7L266.1,342.0L266.7,344.3L267.7,349.5L270.6,366.1L271.5,370.4L272.4,374.1L273.3,377.2L274.1,379.9L275.2,382.4L276.2,384.4L276.8,385.4L277.5,386.4L278.2,387.2L279.0,388.0L279.7,388.6L280.6,389.2L281.4,389.7L282.5,390.1L283.5,390.5L284.7,390.8L287.3,391.3L290.5,391.6L294.7,391.8" fill="none" stroke="#5a5a5a" stroke-width="0.7"/>
<path d="M24.8,295.65 H37.6" stroke="#f0a2d6" stroke-width="0.65"/>
<text transform="translate(37.7,297.47) scale(1,1.12)" class="leg">mCherry</text>
<path d="M24.8,302.32 H37.6" stroke="#fdae6c" stroke-width="0.65"/>
<text transform="translate(37.7,304.14) scale(1,1.12)" class="leg">mCherry+LaM3</text>
<path d="M24.8,308.99 H37.6" stroke="#6f9ede" stroke-width="0.65"/>
<text transform="translate(37.7,310.81) scale(1,1.12)" class="leg">mCherry+LaM8</text>
<path d="M24.8,315.66 H37.6" stroke="#5a5a5a" stroke-width="0.65"/>
<text transform="translate(37.7,317.48) scale(1,1.12)" class="leg">mCherry+LaM3+LaM8</text>
<text transform="translate(273.3,306.36) scale(1,1.12)" class="lab" text-anchor="middle" style="fill:#2f6db8;stroke:#2f6db8">16.28</text>
<text transform="translate(289.3,307.96) scale(1,1.12)" class="lab" text-anchor="middle" style="fill:#cc58a6;stroke:#cc58a6">16.95</text>
<text transform="translate(265.1,338.06) scale(1,1.12)" class="lab" text-anchor="middle" style="fill:#1e1e1e;stroke:#1e1e1e">15.79</text>
<text transform="translate(280.8,342.76) scale(1,1.12)" class="lab" text-anchor="middle" style="fill:#ff8a26;stroke:#ff8a26">16.37</text>
<text transform="translate(228.8,362.06) scale(1,1.12)" class="lab" text-anchor="middle" style="fill:#1e1e1e;stroke:#1e1e1e">13.97</text>
<text transform="translate(245.4,362.06) scale(1,1.12)" class="lab" text-anchor="middle" style="fill:#ff8a26;stroke:#ff8a26">14.30</text>
<path d="M125,310.7 L185.4,288.8 M124.2,373.8 L184.6,395.6" stroke="#3a3a3a" stroke-width="0.95" stroke-dasharray="3.2,2.6" fill="none"/>
<text x="13.1" y="421" class="let">G</text>
<text x="192.3" y="421" class="let">H</text>
<path d="M22.6,428 V532.7 H155.6" fill="none" stroke="#4a4a4a" stroke-width="0.8"/>
<path d="M21,528.45 h1.6" stroke="#4a4a4a" stroke-width="0.6"/>
<text x="20.65" y="530.51" class="tky" text-anchor="end">0</text>
<path d="M21.7,515.96 h0.9" stroke="#4a4a4a" stroke-width="0.6"/>
<path d="M21,503.47 h1.6" stroke="#4a4a4a" stroke-width="0.6"/>
<text x="20.65" y="505.53" class="tky" text-anchor="end">200</text>
<path d="M21.7,490.99 h0.9" stroke="#4a4a4a" stroke-width="0.6"/>
<path d="M21,478.5 h1.6" stroke="#4a4a4a" stroke-width="0.6"/>
<text x="20.65" y="480.56" class="tky" text-anchor="end">400</text>
<path d="M21.7,466.01 h0.9" stroke="#4a4a4a" stroke-width="0.6"/>
<path d="M21,453.52 h1.6" stroke="#4a4a4a" stroke-width="0.6"/>
<text x="20.65" y="455.58" class="tky" text-anchor="end">600</text>
<path d="M21.7,441.03 h0.9" stroke="#4a4a4a" stroke-width="0.6"/>
<path d="M21,428.55 h1.6" stroke="#4a4a4a" stroke-width="0.6"/>
<text x="20.65" y="430.6" class="tky" text-anchor="end">800</text>
<path d="M22.6,532.7 v1.6" stroke="#4a4a4a" stroke-width="0.6"/>
<text transform="translate(22.6,539.41) scale(1,1.1)" class="tk" text-anchor="middle">0</text>
<path d="M35.9,532.7 v0.9" stroke="#4a4a4a" stroke-width="0.6"/>
<path d="M49.2,532.7 v1.6" stroke="#4a4a4a" stroke-width="0.6"/>
<text transform="translate(49.2,539.41) scale(1,1.1)" class="tk" text-anchor="middle">5</text>
<path d="M62.5,532.7 v0.9" stroke="#4a4a4a" stroke-width="0.6"/>
<path d="M75.8,532.7 v1.6" stroke="#4a4a4a" stroke-width="0.6"/>
<text transform="translate(75.8,539.41) scale(1,1.1)" class="tk" text-anchor="middle">10</text>
<path d="M89.1,532.7 v0.9" stroke="#4a4a4a" stroke-width="0.6"/>
<path d="M102.4,532.7 v1.6" stroke="#4a4a4a" stroke-width="0.6"/>
<text transform="translate(102.4,539.41) scale(1,1.1)" class="tk" text-anchor="middle">15</text>
<path d="M115.7,532.7 v0.9" stroke="#4a4a4a" stroke-width="0.6"/>
<path d="M129,532.7 v1.6" stroke="#4a4a4a" stroke-width="0.6"/>
<text transform="translate(129,539.41) scale(1,1.1)" class="tk" text-anchor="middle">20</text>
<path d="M142.3,532.7 v0.9" stroke="#4a4a4a" stroke-width="0.6"/>
<path d="M155.6,532.7 v1.6" stroke="#4a4a4a" stroke-width="0.6"/>
<text transform="translate(155.6,539.41) scale(1,1.1)" class="tk" text-anchor="middle">25</text>
<text x="89.1" y="546.56" class="ttl" text-anchor="middle">Volume (mL)</text>
<text transform="translate(9.2,480.8) rotate(-90)" class="ttl" text-anchor="middle">Intensity (V)</text>
<path d="M202.3,428 V532.7 H333.9" fill="none" stroke="#4a4a4a" stroke-width="0.8"/>
<path d="M200.7,528.45 h1.6" stroke="#4a4a4a" stroke-width="0.6"/>
<text x="200.35" y="530.51" class="tky" text-anchor="end">0</text>
<path d="M201.4,515.96 h0.9" stroke="#4a4a4a" stroke-width="0.6"/>
<path d="M200.7,503.47 h1.6" stroke="#4a4a4a" stroke-width="0.6"/>
<text x="200.35" y="505.53" class="tky" text-anchor="end">200</text>
<path d="M201.4,490.99 h0.9" stroke="#4a4a4a" stroke-width="0.6"/>
<path d="M200.7,478.5 h1.6" stroke="#4a4a4a" stroke-width="0.6"/>
<text x="200.35" y="480.56" class="tky" text-anchor="end">400</text>
<path d="M201.4,466.01 h0.9" stroke="#4a4a4a" stroke-width="0.6"/>
<path d="M200.7,453.52 h1.6" stroke="#4a4a4a" stroke-width="0.6"/>
<text x="200.35" y="455.58" class="tky" text-anchor="end">600</text>
<path d="M201.4,441.03 h0.9" stroke="#4a4a4a" stroke-width="0.6"/>
<path d="M200.7,428.55 h1.6" stroke="#4a4a4a" stroke-width="0.6"/>
<text x="200.35" y="430.6" class="tky" text-anchor="end">800</text>
<path d="M202.4,532.7 v1.6" stroke="#4a4a4a" stroke-width="0.6"/>
<text transform="translate(202.4,539.41) scale(1,1.1)" class="tk" text-anchor="middle">12</text>
<path d="M218.82,532.7 v0.9" stroke="#4a4a4a" stroke-width="0.6"/>
<path d="M235.24,532.7 v1.6" stroke="#4a4a4a" stroke-width="0.6"/>
<text transform="translate(235.24,539.41) scale(1,1.1)" class="tk" text-anchor="middle">14</text>
<path d="M251.66,532.7 v0.9" stroke="#4a4a4a" stroke-width="0.6"/>
<path d="M268.08,532.7 v1.6" stroke="#4a4a4a" stroke-width="0.6"/>
<text transform="translate(268.08,539.41) scale(1,1.1)" class="tk" text-anchor="middle">16</text>
<path d="M284.5,532.7 v0.9" stroke="#4a4a4a" stroke-width="0.6"/>
<path d="M300.92,532.7 v1.6" stroke="#4a4a4a" stroke-width="0.6"/>
<text transform="translate(300.92,539.41) scale(1,1.1)" class="tk" text-anchor="middle">18</text>
<path d="M317.34,532.7 v0.9" stroke="#4a4a4a" stroke-width="0.6"/>
<path d="M333.76,532.7 v1.6" stroke="#4a4a4a" stroke-width="0.6"/>
<text transform="translate(333.76,539.41) scale(1,1.1)" class="tk" text-anchor="middle">20</text>
<text x="268.7" y="546.56" class="ttl" text-anchor="middle">Volume (mL)</text>
<text transform="translate(188.7,480.8) rotate(-90)" class="ttl" text-anchor="middle">Intensity (V)</text>
<path d="M22.6,528.45 H155.6" stroke="#78cc72" stroke-width="0.85"/>
<path d="M108.0,528.4L108.5,528.1L108.8,527.7L109.1,526.7L109.3,525.7L109.8,521.9L110.1,517.0L110.5,509.9L110.8,500.4L111.8,464.5L112.1,454.7L112.4,448.3L112.6,447.2L112.7,446.5L112.8,446.3L112.9,446.6L113.1,448.5L113.4,454.2L114.7,486.8L115.3,501.5L115.9,510.2L116.6,517.1L117.0,520.2L117.6,522.9L118.1,524.8L118.8,526.2L119.1,526.7L119.5,527.1L120.0,527.5L120.4,527.8L121.5,528.1L123.2,528.4" fill="none" stroke="#f0a2d6" stroke-width="0.7"/>
<path d="M94.5,528.4L94.8,528.2L95.0,528.0L95.3,527.7L95.5,527.3L95.8,526.1L96.1,524.2L96.7,519.0L97.9,502.9L98.1,500.9L98.4,499.6L98.5,499.2L98.6,498.9L98.7,498.9L98.8,499.0L99.0,499.6L99.4,501.5L100.6,511.7L101.1,515.6L101.7,518.6L102.4,521.4L102.9,523.1L103.5,524.4L104.0,525.3L104.7,526.2L105.2,526.6L105.5,526.7L105.7,526.7L106.0,526.3L106.3,525.5L106.7,523.9L106.9,522.3L107.3,517.3L107.8,509.9L108.9,487.3L109.3,481.8L109.5,481.0L109.6,480.6L109.7,480.4L109.8,480.6L110.0,481.6L110.3,484.9L111.7,505.5L112.2,512.5L112.8,517.6L113.4,521.7L113.9,523.6L114.3,524.9L114.9,526.1L115.4,526.9L116.1,527.5L117.0,527.9L118.0,528.2L119.3,528.4" fill="none" stroke="#fdae6c" stroke-width="0.7"/>
<path d="M92.7,528.4L93.0,528.2L93.3,528.1L93.5,527.8L93.7,527.3L94.0,526.2L94.4,524.4L94.9,519.4L95.9,506.1L96.3,502.5L96.6,500.1L96.7,499.7L96.8,499.4L96.9,499.4L97.0,499.4L97.1,499.7L97.5,501.1L99.1,514.2L99.7,517.6L100.4,520.6L100.8,522.2L101.2,523.4L101.7,524.4L102.1,525.1L102.5,525.3L102.7,525.4L102.8,525.3L103.1,524.8L103.4,524.1L103.6,522.9L103.8,521.2L104.2,515.9L104.7,507.8L105.9,480.6L106.2,476.3L106.5,474.9L106.6,474.7L106.7,474.7L106.9,475.8L107.2,479.3L108.6,502.4L109.1,510.3L109.7,516.1L110.3,520.8L110.8,522.9L111.2,524.4L111.8,525.7L112.4,526.8L113.1,527.4L114.0,527.9L115.0,528.2L116.4,528.4" fill="none" stroke="#6f9ede" stroke-width="0.7"/>
<path d="M93.5,528.4L93.8,528.3L94.0,528.1L94.3,527.8L94.5,527.4L94.8,526.4L95.1,524.7L95.7,520.0L97.0,503.7L97.4,501.3L97.5,500.9L97.6,500.6L97.7,500.5L97.8,500.5L98.0,501.1L98.4,502.7L99.9,514.6L100.4,517.3L100.9,520.0L101.6,522.3L101.9,523.1L102.2,523.7L102.5,523.8L102.7,523.8L102.9,523.5L103.1,522.8L103.4,521.7L103.6,520.0L104.0,514.7L104.5,506.6L105.6,482.1L105.8,478.7L106.0,476.4L106.1,475.7L106.2,475.3L106.3,475.2L106.5,475.4L106.7,476.7L107.0,480.5L108.2,501.6L108.9,511.0L109.5,516.6L110.1,521.1L110.6,523.1L111.0,524.6L111.6,525.8L112.2,526.8L112.9,527.4L113.8,527.9L114.8,528.2L116.2,528.4" fill="none" stroke="#80d978" stroke-width="0.7"/>
<path d="M202.4,528.45 H333.76" stroke="#78cc72" stroke-width="0.85"/>
<path d="M269.0,528.4L270.3,528.1L271.4,527.7L271.8,527.4L272.2,526.9L273.0,525.9L273.7,524.3L274.3,522.5L274.9,520.2L275.5,517.2L276.0,513.5L276.5,510.2L277.5,500.8L278.4,491.1L280.4,466.7L281.4,456.4L282.0,451.9L282.6,448.6L283.1,447.1L283.3,446.5L283.6,446.3L283.8,446.3L284.1,446.6L284.4,447.3L284.7,448.2L285.2,451.0L285.8,454.7L286.9,462.9L289.6,487.7L290.7,495.5L291.5,501.2L292.4,506.1L293.4,510.7L294.5,514.5L295.5,517.4L296.1,518.9L296.8,520.4L297.5,521.6L298.4,522.9L299.3,523.9L300.2,524.8L301.2,525.6L302.2,526.2L303.4,526.7L304.5,527.1L305.9,527.5L307.3,527.8L310.8,528.1L315.6,528.4" fill="none" stroke="#f0a2d6" stroke-width="0.7"/>
<path d="M227.2,528.4L228.3,528.2L229.0,528.0L229.7,527.7L230.3,527.3L230.9,526.7L231.3,526.1L231.9,525.1L232.4,524.2L233.2,521.9L234.1,518.8L235.0,515.2L236.9,506.6L237.9,502.7L238.5,501.0L239.1,499.8L239.5,499.2L239.8,499.0L240.1,498.9L240.5,498.9L241.0,499.3L241.4,499.9L241.9,500.6L243.0,503.4L245.9,511.4L247.4,514.8L248.3,516.6L249.3,518.4L250.3,519.9L251.5,521.4L253.1,523.0L254.7,524.2L256.6,525.3L258.5,526.1L260.3,526.6L261.0,526.7L261.7,526.7L262.3,526.5L262.9,526.3L263.3,526.0L263.8,525.6L264.2,525.1L264.6,524.4L265.4,522.8L266.1,520.6L266.8,517.7L267.6,514.2L268.3,509.9L270.9,492.0L272.0,486.1L272.5,483.5L273.1,481.7L273.6,480.8L273.9,480.5L274.1,480.4L274.3,480.5L274.6,480.7L274.9,481.1L275.2,481.6L275.6,482.8L276.2,484.9L277.2,489.6L280.1,504.8L281.0,508.7L281.9,512.1L282.8,515.0L283.6,517.5L284.7,519.8L285.7,521.6L286.3,522.5L287.0,523.4L287.7,524.2L288.5,524.9L289.2,525.4L290.1,526.0L290.9,526.4L292.0,526.9L294.2,527.5L296.6,527.9L299.7,528.2L303.8,528.4" fill="none" stroke="#fdae6c" stroke-width="0.7"/>
<path d="M221.8,528.4L222.9,528.2L223.6,528.0L224.3,527.7L224.9,527.3L225.5,526.7L225.9,526.1L226.5,525.2L226.9,524.3L227.8,521.9L228.7,518.9L229.6,515.4L231.5,506.9L232.5,503.1L233.1,501.4L233.7,500.2L234.1,499.7L234.4,499.4L234.7,499.4L235.1,499.4L235.6,499.8L236.0,500.4L236.6,501.4L237.6,503.8L240.4,511.3L241.7,514.5L242.6,516.3L243.5,517.8L244.3,519.2L245.4,520.6L246.7,522.1L248.0,523.3L249.4,524.3L250.8,525.0L251.9,525.4L252.8,525.3L253.2,525.2L253.7,525.0L254.4,524.3L255.1,523.2L255.9,521.5L256.6,519.1L257.3,515.9L258.1,511.9L258.8,507.2L261.3,488.4L262.3,481.6L262.9,478.6L263.5,476.4L263.8,475.6L264.1,475.0L264.4,474.7L264.6,474.6L264.8,474.7L265.1,474.9L265.4,475.4L265.7,476.1L266.1,477.4L266.7,479.8L267.7,485.1L270.6,502.1L271.5,506.4L272.4,510.3L273.3,513.5L274.1,516.2L275.2,518.8L276.2,520.8L276.8,521.8L277.5,522.8L278.2,523.7L279.0,524.5L279.8,525.2L280.7,525.8L281.6,526.3L282.6,526.7L283.6,527.1L284.8,527.4L287.4,527.9L290.7,528.2L294.9,528.4" fill="none" stroke="#6f9ede" stroke-width="0.7"/>
<path d="M224.3,528.4L225.3,528.2L226.1,528.0L226.8,527.7L227.4,527.3L228.0,526.7L228.4,526.2L229.0,525.3L229.4,524.4L230.3,522.1L231.2,519.2L232.1,515.8L234.0,507.7L235.0,504.0L235.6,502.4L236.0,501.5L236.4,500.9L236.7,500.6L237.0,500.5L237.5,500.5L237.8,500.7L238.1,500.9L238.5,501.5L239.1,502.5L240.0,504.5L242.6,511.3L243.9,514.4L244.6,515.9L245.5,517.6L246.4,519.0L247.3,520.2L248.3,521.4L249.3,522.4L250.3,523.2L251.2,523.7L251.9,523.9L252.7,523.8L253.1,523.6L253.4,523.4L254.0,522.7L254.7,521.5L255.3,520.0L256.0,517.5L256.6,514.9L257.2,511.8L257.9,507.3L260.6,487.9L261.6,481.4L262.2,478.6L262.7,476.6L263.2,475.6L263.5,475.3L263.8,475.2L263.9,475.2L264.2,475.4L264.5,475.8L264.8,476.5L265.2,477.8L265.8,480.1L266.8,485.2L269.8,502.0L270.8,507.1L271.7,510.8L272.5,513.9L273.4,516.6L274.3,518.7L275.3,520.8L275.9,521.8L276.6,522.8L277.4,523.7L278.1,524.4L279.0,525.2L279.8,525.8L280.7,526.3L281.7,526.7L282.8,527.1L283.9,527.4L286.6,527.9L289.8,528.2L294.0,528.4" fill="none" stroke="#80d978" stroke-width="0.7"/>
<path d="M24.8,432.25 H37.6" stroke="#f0a2d6" stroke-width="0.65"/>
<text transform="translate(37.7,434.07) scale(1,1.12)" class="leg">mCherry</text>
<path d="M24.8,438.92 H37.6" stroke="#fdae6c" stroke-width="0.65"/>
<text transform="translate(37.7,440.74) scale(1,1.12)" class="leg">mCherry+LaM3</text>
<path d="M24.8,445.59 H37.6" stroke="#6f9ede" stroke-width="0.65"/>
<text transform="translate(37.7,447.41) scale(1,1.12)" class="leg">mCherry+LaM3+LaM8</text>
<path d="M24.8,452.26 H37.6" stroke="#80d978" stroke-width="0.65"/>
<text transform="translate(37.7,454.08) scale(1,1.12)" class="leg">mCherry+LaM1+LaM3+LaM8</text>
<text transform="translate(285.9,444.66) scale(1,1.12)" class="lab" text-anchor="middle" style="fill:#cc58a6;stroke:#cc58a6">16.95</text>
<text transform="translate(270.3,466.86) scale(1,1.12)" class="lab" text-anchor="middle" style="fill:#2f6db8;stroke:#2f6db8">15.79</text>
<text transform="translate(256.5,473.16) scale(1,1.12)" class="lab" text-anchor="middle" style="fill:#3cb43c;stroke:#3cb43c">15.74</text>
<text transform="translate(275.3,480.06) scale(1,1.12)" class="lab" text-anchor="middle" style="fill:#ff8a26;stroke:#ff8a26">16.37</text>
<text transform="translate(237.8,491.26) scale(1,1.12)" class="lab" text-anchor="middle" style="fill:#3cb43c;stroke:#3cb43c">14.12</text>
<text transform="translate(225.6,498.96) scale(1,1.12)" class="lab" text-anchor="middle" style="fill:#2f6db8;stroke:#2f6db8">13.97</text>
<text transform="translate(248.6,498.56) scale(1,1.12)" class="lab" text-anchor="middle" style="fill:#ff8a26;stroke:#ff8a26">14.30</text>
<path d="M269.9,467.5 L265.2,474.8" stroke="#2f6db8" stroke-width="0.6"/>
<path d="M237.7,492.1 L237.7,499.5" stroke="#3cb43c" stroke-width="0.6"/>
<path d="M125,447.3 L185.4,425.4 M124.2,510.4 L184.6,532.2" stroke="#3a3a3a" stroke-width="0.95" stroke-dasharray="3.2,2.6" fill="none"/>
</svg>
</body></html>
